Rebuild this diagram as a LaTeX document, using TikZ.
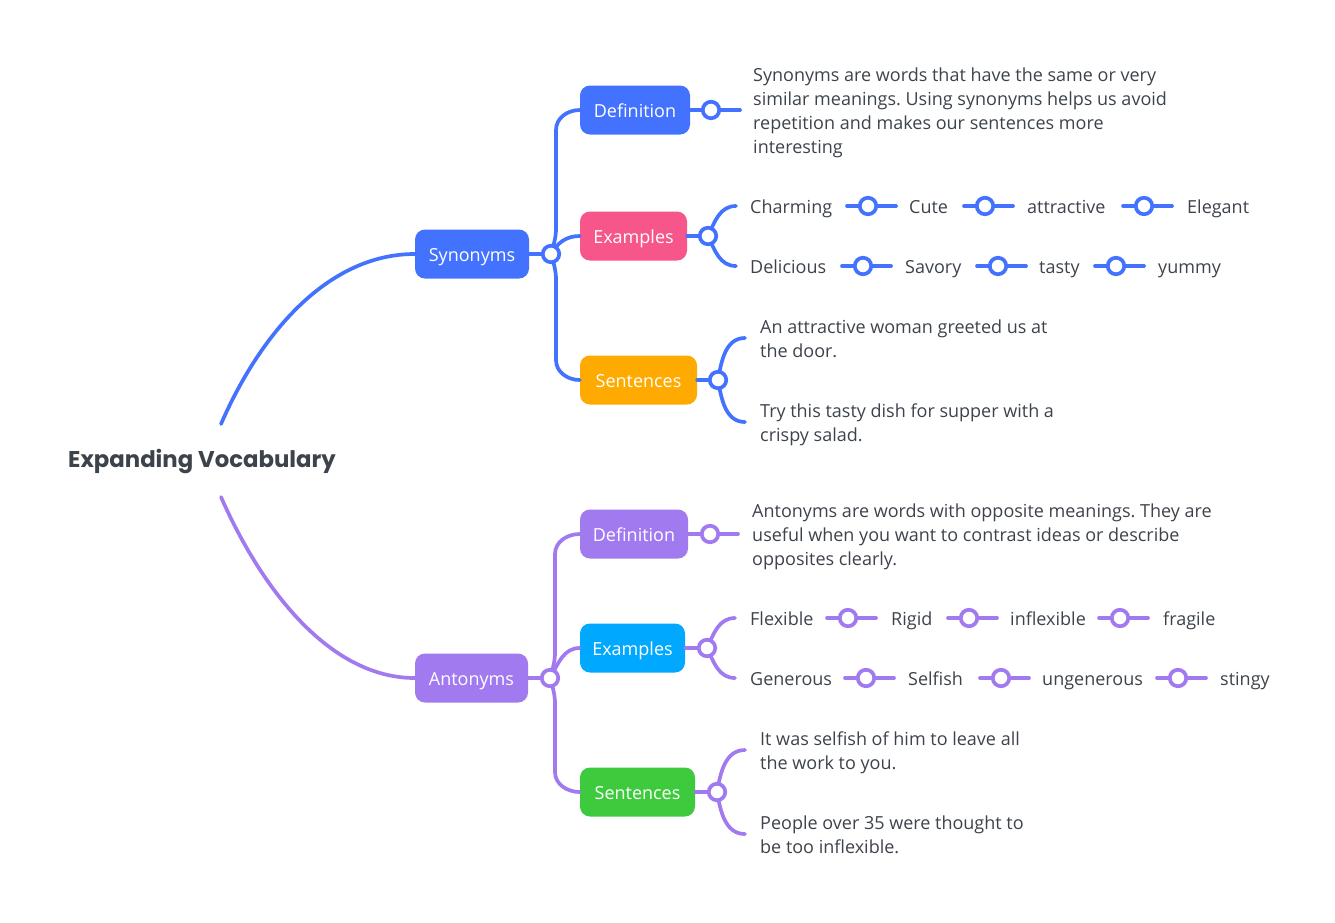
\documentclass[tikz,border=0pt]{standalone}
\usepackage{fontspec}
\setmainfont{Open Sans}
\newfontfamily\titlefont{Poppins}
\frenchspacing
\definecolor{cblue}{HTML}{4372FF}
\definecolor{cpink}{HTML}{F7568A}
\definecolor{corange}{HTML}{FFAA00}
\definecolor{cpurple}{HTML}{A17AF0}
\definecolor{ccyan}{HTML}{00A9FF}
\definecolor{cgreen}{HTML}{3DCB3D}
\definecolor{ctext}{HTML}{3D434B}
\newcommand\bodyfs{\fontsize{18}{24}\selectfont}
\newcommand\chainlink[3]{%
  \coordinate (#1a) at (#2,#3);
  \coordinate (#1b) at ({#2+49},#3);
  \draw[lnk] (#1a) -- (#1b);
  \node[dot] (#1) at ({#2+21},#3) {};}
\tikzset{
  lnk/.style={line width=3.7pt, line cap=round},
  tbox/.style={rounded corners=10pt, minimum height=49pt, inner sep=0pt, text=white, font=\bodyfs, text height=14pt, text depth=0pt},
  dot/.style={circle, draw, fill=white, line width=3.7pt, minimum size=16.5pt, inner sep=0pt},
  txt/.style={text=ctext, font=\bodyfs, inner sep=0pt, anchor=base west, align=left},
}
\begin{document}
\begin{tikzpicture}[x=1pt,y=-1pt]
\useasboundingbox (0,0) rectangle (1335,922);
% root
\node[text=ctext, font={\titlefont\bfseries\fontsize{22.8}{26}\selectfont}] (root) at (202,461) {Expanding Vocabulary};
\coordinate (rt) at (221,424);
\coordinate (rb) at (221,497);

% ---------------- Synonyms ----------------
\begin{scope}[cblue]
\node[tbox, fill=cblue, minimum width=114pt] (syn) at (472,254) {Synonyms};
\node[tbox, fill=cblue, minimum width=110pt] (sdef) at (635,110) {Definition};
\node[tbox, fill=cpink, minimum width=107pt] (sex) at (633.5,236) {Examples};
\node[tbox, fill=corange, minimum width=117pt] (ssen) at (638.5,380) {Sentences};
\draw[lnk] (rt) .. controls (262,330) and (330,254) .. (syn.west);
\coordinate (sc) at (551,254);
\draw[lnk] (syn.east) -- (sc);
\draw[lnk] (sc) to[out=75,in=-90] (556,228) -- (556,130) to[out=90,in=180] (sdef.west);
\draw[lnk] (sc) to[out=60,in=180] (sex.west);
\draw[lnk] (sc) to[out=-75,in=90] (556,280) -- (556,360) to[out=-90,in=180] (ssen.west);
\node[dot] (scd) at (sc) {};
% definition
\coordinate (sdc) at (711,110);
\coordinate (sdend) at (740,110);
\draw[lnk] (sdef.east) -- (sdend);
\node[dot] (sdcn) at (sdc) {};
\node[txt] (sdeftxt) at (753,153) {Synonyms are words that have the same or very\\similar meanings. Using synonyms helps us avoid\\repetition and makes our sentences more\\interesting};
% examples
\coordinate (sec) at (708,236);
\coordinate (se1) at (736,206);
\coordinate (se2) at (736,266);
\draw[lnk] (sex.east) -- (sec);
\draw[lnk] (sec) to[out=65,in=180] (se1);
\draw[lnk] (sec) to[out=-65,in=180] (se2);
\node[dot] (secn) at (sec) {};
\node[txt] (w1) at (750,213) {Charming};
\chainlink{s1l1}{847}{206}
\node[txt] (w2) at (909,213) {Cute};
\chainlink{s1l2}{964}{206}
\node[txt] (w3) at (1027,213) {attractive};
\chainlink{s1l3}{1123}{206}
\node[txt] (w4) at (1187,213) {Elegant};
\node[txt] (w5) at (750,273) {Delicious};
\chainlink{s2l1}{842}{266}
\node[txt] (w6) at (905,273) {Savory};
\chainlink{s2l2}{977}{266}
\node[txt] (w7) at (1039,273) {tasty};
\chainlink{s2l3}{1095}{266}
\node[txt] (w8) at (1158,273) {yummy};
% sentences
\coordinate (ssc) at (718,380);
\coordinate (ss1) at (745,338);
\coordinate (ss2) at (745,422);
\draw[lnk] (ssen.east) -- (ssc);
\draw[lnk] (ssc) to[out=80,in=180] (ss1);
\draw[lnk] (ssc) to[out=-80,in=180] (ss2);
\node[dot] (sscn) at (ssc) {};
\node[txt] (st1) at (760,357) {An attractive woman greeted us at\\the door.};
\node[txt] (st2) at (760,441) {Try this tasty dish for supper with a\\crispy salad.};
\end{scope}

% ---------------- Antonyms ----------------
\begin{scope}[cpurple]
\node[tbox, fill=cpurple, minimum width=113pt] (ant) at (471.5,678) {Antonyms};
\node[tbox, fill=cpurple, minimum width=108pt] (adef) at (634,534) {Definition};
\node[tbox, fill=ccyan, minimum width=105pt] (aex) at (632.5,648) {Examples};
\node[tbox, fill=cgreen, minimum width=115pt] (asen) at (637.5,792) {Sentences};
\draw[lnk] (rb) .. controls (262,590) and (330,678) .. (ant.west);
\coordinate (ac) at (550,678);
\draw[lnk] (ant.east) -- (ac);
\draw[lnk] (ac) to[out=75,in=-90] (555,652) -- (555,554) to[out=90,in=180] (adef.west);
\draw[lnk] (ac) to[out=60,in=180] (aex.west);
\draw[lnk] (ac) to[out=-75,in=90] (555,704) -- (555,772) to[out=-90,in=180] (asen.west);
\node[dot] (acd) at (ac) {};
% definition
\coordinate (adc) at (710,534);
\coordinate (adend) at (738,534);
\draw[lnk] (adef.east) -- (adend);
\node[dot] (adcn) at (adc) {};
\node[txt] (adeftxt) at (752,565) {Antonyms are words with opposite meanings. They are\\useful when you want to contrast ideas or describe\\opposites clearly.};
% examples
\coordinate (aec) at (707,648);
\coordinate (ae1) at (735,618);
\coordinate (ae2) at (735,678);
\draw[lnk] (aex.east) -- (aec);
\draw[lnk] (aec) to[out=65,in=180] (ae1);
\draw[lnk] (aec) to[out=-65,in=180] (ae2);
\node[dot] (aecn) at (aec) {};
\node[txt] (v1) at (750,625) {Flexible};
\chainlink{a1l1}{827}{618}
\node[txt] (v2) at (891,625) {Rigid};
\chainlink{a1l2}{948}{618}
\node[txt] (v3) at (1010,625) {inflexible};
\chainlink{a1l3}{1099}{618}
\node[txt] (v4) at (1163,625) {fragile};
\node[txt] (v5) at (750,685) {Generous};
\chainlink{a2l1}{845}{678}
\node[txt] (v6) at (908,685) {Selfish};
\chainlink{a2l2}{980}{678}
\node[txt] (v7) at (1042,685) {ungenerous};
\chainlink{a2l3}{1157}{678}
\node[txt] (v8) at (1220,685) {stingy};
% sentences
\coordinate (asc) at (717,792);
\coordinate (as1) at (745,750);
\coordinate (as2) at (745,834);
\draw[lnk] (asen.east) -- (asc);
\draw[lnk] (asc) to[out=80,in=180] (as1);
\draw[lnk] (asc) to[out=-80,in=180] (as2);
\node[dot] (ascn) at (asc) {};
\node[txt] (at1) at (760,769) {It was selfish of him to leave all\\the work to you.};
\node[txt] (at2) at (760,853) {People over 35 were thought to\\be too inflexible.};
\end{scope}
\end{tikzpicture}
\end{document}
